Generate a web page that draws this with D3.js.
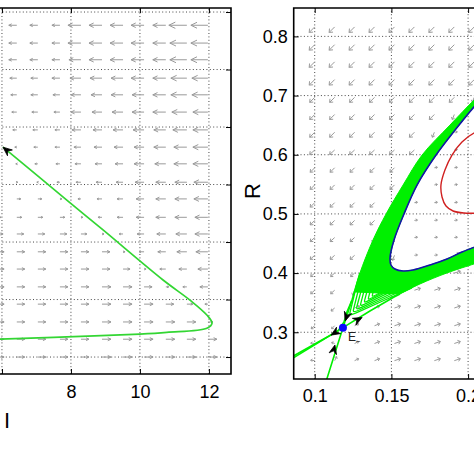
<!DOCTYPE html>
<html>
<head>
<meta charset="utf-8">
<script src="https://cdn.jsdelivr.net/npm/d3@7"></script>
<style>
  body { margin: 0; background: #fff; }
  svg { display: block; }
  text { font-family: "Liberation Sans", Arial, Helvetica, sans-serif; }
</style>
</head>
<body>
<script>
// ---------- left panel (I on x) ----------
const leftXTicks = [6, 8, 10, 12];
const leftXLabels = [8, 10, 12];
const leftYTicks = [1, 2, 3, 4, 5, 6, 7];

// quiver grid, rows listed top to bottom
const leftCols = [5.83, 6.43, 7.04, 7.68, 8.29, 8.90, 9.51, 10.12, 10.75, 11.36, 11.97];
const leftRows = [6.77, 6.46, 6.17, 5.85, 5.56, 5.26, 4.95, 4.65, 4.36, 4.04,
                  3.75, 3.43, 3.14, 2.83, 2.53, 2.22, 1.92, 1.61, 1.31, 1.00];
const leftU = [
  [-7, -8, -8, -8, -13, -13, -13, -13, -13, -18, -17],
  [-7, -8, -8, -8, -13, -13, -13, -13, -13, -17, -17],
  [-7, -8, -8, -8, -12, -13, -13, -13, -13, -17, -17],
  [-6, -7, -7, -8, -11, -12, -12, -13, -13, -16, -16],
  [-5, -6, -7, -7, -10, -11, -12, -12, -13, -16, -16],
  [-4, -5, -6, -6, -10, -10, -11, -12, -13, -15, -15],
  [-3, -4, -5, -5, -9, -9, -10, -11, -12, -14, -15],
  [-2, -2, -4, -5, -7, -8, -9, -10, -12, -13, -15],
  [-1, -1, -3, -4, -6, -7, -8, -10, -11, -13, -15],
  [1, 1, -1, -3, -5, -6, -7, -9, -10, -12, -14],
  [3, 4, 4, 2, -3, -5, -6, -8, -10, -12, -14],
  [5, 5, 5, 5, 2, -4, -6, -8, -10, -12, -13],
  [7, 7, 7, 7, 6, 2, -4, -7, -9, -11, -13],
  [8, 8, 8, 8, 8, 8, 2, -5, -8, -10, -12],
  [8, 8, 8, 8, 8, 8, 7, 2, -6, -8, -10],
  [8, 8, 8, 8, 8, 9, 9, 8, 3, -4, -8],
  [8, 8, 8, 8, 8, 9, 9, 9, 8, 6, -3],
  [8, 8, 8, 8, 8, 9, 9, 9, 9, 9, 5],
  [8, 8, 8, 8, 8, 9, 9, 9, 9, 9, 9],
  [8, 8, 8, 8, 8, 9, 9, 9, 9, 9, 9]
];

// trajectory in the left panel
const leftTrajI = [4.5, 5.94, 7.88, 10.0, 10.78, 11.94, 12.09, 11.94, 11.45, 10.67, 8.93, 7.88, 6.03];
const leftTrajY = [1.28, 1.31, 1.35, 1.40, 1.43, 1.50, 1.59, 1.73, 1.99, 2.34, 3.21, 3.73, 4.65];

// ---------- right panel (R on y) ----------
const rightXTicks = [0.1, 0.15, 0.2];
const rightYTicks = [0.3, 0.4, 0.5, 0.6, 0.7, 0.8];

const rightCols = [0.100, 0.113, 0.126, 0.139, 0.152, 0.165, 0.178, 0.191, 0.204];
const rightRows = [0.816, 0.786, 0.757, 0.727, 0.697, 0.668, 0.638, 0.608, 0.578, 0.549,
                   0.519, 0.489, 0.460, 0.430, 0.400, 0.371, 0.341, 0.311, 0.281, 0.252];
const rightU = [
  [-5.5, -5.5, -5.5, -5.5, -5.5, -5.5, -5.5, -5.5, -5.5],
  [-5.5, -5.5, -5.5, -5.5, -5.5, -5.5, -5.5, -5.5, -5.5],
  [-5.5, -5.5, -5.5, -5.5, -5.5, -5.5, -5.5, -5.5, -5.5],
  [-5.5, -5.5, -5.5, -5.5, -5.5, -5.5, -5.5, -5.5, -5.5],
  [-5, -5, -5, -5, -5, -5, -5, -5, -2],
  [-5, -5, -5, -5, -5, -5, -5, -2, 3],
  [-5, -5, -5, -5, -5, -5, -2, 3, 3],
  [-5, -5, -5, -5, -5, -5, -2, 3, 3],
  [-4.5, -4.5, -4.5, -4.5, -4.5, -2, 3, 3, 3],
  [-4.5, -4.5, -4.5, -4.5, -4.5, 3, 3, 3, 3],
  [-4.5, -4.5, -4.5, -4.5, -2, 3, 3, 3, 3],
  [-4.5, -4.5, -4.5, -4.5, -2, 3, 3, 3, 3],
  [-4.5, -4.5, -4.5, -2, -2, 3, 3, 3, 3],
  [-4.5, -4.5, -4.5, -2, -2, 3, 3, 5, 5],
  [-4, -4, -4, -2, 3, 5, 5, 6, 6],
  [-4, -4, -2, 3, 5, 6, 6, 6, 6],
  [-3.5, -3.5, 5, 5, 6, 6, 6, 6, 6],
  [-3.5, -3, 4, 5, 6, 6, 6, 6, 6],
  [-4, -3, 4, 5, 6, 6, 6, 6, 6],
  [-4, 2, 4, 5, 6, 6, 6, 6, 6]
];
const rightV = [
  [-5.5, -5.5, -5.5, -5.5, -5.5, -5.5, -5.5, -5.5, -5.5],
  [-5.5, -5.5, -5.5, -5.5, -5.5, -5.5, -5.5, -5.5, -5.5],
  [-5.5, -5.5, -5.5, -5.5, -5.5, -5.5, -5.5, -5.5, -5.5],
  [-5.5, -5.5, -5.5, -5.5, -5.5, -5.5, -5.5, -5.5, -5.5],
  [-5, -5, -5, -5, -5, -5, -5, -5, -5],
  [-5, -5, -5, -5, -5, -5, -5, -5, 0.5],
  [-5, -5, -5, -5, -5, -5, -5, 0.5, 0.5],
  [-4.5, -4.5, -4.5, -4.5, -4.5, -4.5, -5, 0.5, 0.5],
  [-4.5, -4.5, -4.5, -4.5, -4.5, -5, 0.5, 0.5, 0.5],
  [-4.5, -4.5, -4.5, -4.5, -4.5, 0.5, 0.5, 0.5, 0.5],
  [-4.5, -4.5, -4.5, -4.5, -5, 0.5, 0.5, 0.5, 0.5],
  [-4.5, -4.5, -4.5, -4.5, -5, 0.5, 0.5, 0.5, 0.5],
  [-4, -4, -4, -5, -5, 0.5, 0.5, 0.5, 0.5],
  [-4, -4, -4, -5, -5, 0.5, 0.5, 2, 2],
  [-3.5, -3.5, -3.5, -5, 2, 2, 2, 2, 2],
  [-3.5, -3.5, -5, 2, 2, 2, 2, 2, 2],
  [-3, -3, 2, 2, 2, 2, 2, 2, 2],
  [-3, -3, 2, 2, 2, 2, 2, 2, 2],
  [0.5, 1, 2, 2, 2, 2, 2, 2, 2],
  [0.5, 4, 2, 2, 2, 2, 2, 2, 2]
];

// saddle point
const saddle = [0.1184, 0.3078];

// outer edge of the green bundle (left arm, top to bottom)
const bandOuter = [[0.2078, 0.7025], [0.2038, 0.6924], [0.1882, 0.6502], [0.1700, 0.5995],
                   [0.1576, 0.5488], [0.1465, 0.4998], [0.1380, 0.4559], [0.1295, 0.4002], [0.1259, 0.3681]];
// lower edge of the lower arm (left to right)
const bandLower = [[0.1556, 0.3647], [0.1686, 0.3816], [0.1862, 0.4002], [0.2038, 0.4154], [0.2078, 0.4188]];

// fan of trajectories turning near the saddle
const fanStart = [[0.1282, 0.3883], [0.1301, 0.3883], [0.1321, 0.3883], [0.1340, 0.3883],
                  [0.1360, 0.3883], [0.1379, 0.3883], [0.1399, 0.3883], [0.1418, 0.3883]];
const fanTurn = [[0.1224, 0.3275], [0.1247, 0.3326], [0.1269, 0.3376], [0.1295, 0.3436],
                 [0.1321, 0.3495], [0.1347, 0.3546], [0.1373, 0.3596], [0.1399, 0.3664]];
const fanEnd = [[0.1634, 0.3748], [0.1634, 0.3782], [0.1634, 0.3816], [0.1634, 0.3850],
                [0.1634, 0.3884], [0.1634, 0.3917], [0.1634, 0.3951], [0.1634, 0.3985]];

// separatrices
const unstableLeft = [[0.0839, 0.2532], [0.1184, 0.3078]];
const unstableRight = [[0.1184, 0.3078], [0.1360, 0.3360], [0.1517, 0.3596], [0.1556, 0.3647]];
const stableLower = [[0.1073, 0.2160], [0.1184, 0.3078], [0.1243, 0.3546], [0.1295, 0.4002]];
const nearSaddle = [[0.0839, 0.2566], [0.1035, 0.2853], [0.1152, 0.3022], [0.1191, 0.3174], [0.1210, 0.3343], [0.1243, 0.3546]];

// limit cycles (visible part)
const blueCycle = [[0.2078, 0.6907], [0.2038, 0.6806], [0.1915, 0.6417], [0.1791, 0.5995], [0.1667, 0.5488],
                   [0.1582, 0.4998], [0.1517, 0.4559], [0.1491, 0.4255], [0.1497, 0.4137], [0.1523, 0.4069],
                   [0.1576, 0.4035], [0.1641, 0.4052], [0.1752, 0.4137], [0.1862, 0.4238], [0.1960, 0.4356],
                   [0.2078, 0.4475]];
const redCycle = [[0.2078, 0.6399], [0.2038, 0.6367], [0.1960, 0.6215], [0.1895, 0.5995], [0.1849, 0.5742],
                  [0.1823, 0.5488], [0.1830, 0.5286], [0.1856, 0.5133], [0.1902, 0.5049], [0.1973, 0.5015],
                  [0.2078, 0.5015]];

// direction arrows: [from, tip]
const rightArrows = [
  [[0.1184, 0.3078], [0.1106, 0.2951]],
  [[0.1243, 0.3546], [0.1199, 0.3191]],
  [[0.1184, 0.3078], [0.1309, 0.3250]],
  [[0.1073, 0.2160], [0.1132, 0.2785]]
];
const leftArrow = [[7.88, 3.73], [6.03, 4.65]];

// ---------- drawing ----------
const W = 474, H = 474;
const svg = d3.select("body").append("svg").attr("width", W).attr("height", H);
svg.append("rect").attr("width", W).attr("height", H).attr("fill", "#fff");

const xL = d3.scaleLinear().domain([0, 12.64]).range([-205, 231]);
const yL = d3.scaleLinear().domain([0.705, 7.07]).range([374, 8]);
const xR = d3.scaleLinear().domain([0.0863, 0.25]).range([293.7, 544.8]);
const yR = d3.scaleLinear().domain([0.221, 0.848]).range([379, 8]);

const defs = svg.append("defs");
defs.append("clipPath").attr("id", "clipL").append("rect")
    .attr("x", xL.range()[0]).attr("y", 8).attr("width", xL.range()[1] - xL.range()[0]).attr("height", 366);
defs.append("clipPath").attr("id", "clipR").append("rect")
    .attr("x", xR.range()[0]).attr("y", 8).attr("width", xR.range()[1] - xR.range()[0]).attr("height", 371);

function grid(g, xs, ys, x, y) {
  const yr = y.range(), xr = x.range();
  g.selectAll(".gv").data(xs).enter().append("line")
      .attr("x1", d => x(d)).attr("x2", d => x(d)).attr("y1", yr[0]).attr("y2", yr[1]);
  g.selectAll(".gh").data(ys).enter().append("line")
      .attr("x1", xr[0]).attr("x2", xr[1]).attr("y1", d => y(d)).attr("y2", d => y(d));
  g.selectAll("line").attr("stroke", "#333").attr("stroke-width", 0.9).attr("stroke-dasharray", "1,2.4");
}

function quiver(g, cols, rows, U, V, x, y, headRatio, headAngle) {
  let p = "";
  rows.forEach((ry, i) => {
    cols.forEach((cx, j) => {
      const dx = U[i][j], dy = V ? -V[i][j] : 0;
      const L = Math.hypot(dx, dy);
      if (L < 0.5) return;
      const x0 = x(cx), y0 = y(ry), tx = x0 + dx, ty = y0 + dy;
      const ux = dx / L, uy = dy / L, h = Math.max(2, headRatio * L), a = headAngle;
      const b1x = tx - h * (ux * Math.cos(a) - uy * Math.sin(a)), b1y = ty - h * (ux * Math.sin(a) + uy * Math.cos(a));
      const b2x = tx - h * (ux * Math.cos(-a) - uy * Math.sin(-a)), b2y = ty - h * (ux * Math.sin(-a) + uy * Math.cos(-a));
      p += `M${x0},${y0}L${tx},${ty}M${b1x},${b1y}L${tx},${ty}L${b2x},${b2y}`;
    });
  });
  g.append("path").attr("d", p).attr("fill", "none").attr("stroke", "#9a9a9a").attr("stroke-width", 1);
}

function arrowHead(g, from, tip, x, y) {
  const x0 = x(from[0]), y0 = y(from[1]), tx = x(tip[0]), ty = y(tip[1]);
  const L = Math.hypot(tx - x0, ty - y0), ux = (tx - x0) / L, uy = (ty - y0) / L;
  const len = 9, wid = 3.8, notch = 6;
  const bx = tx - ux * len, by = ty - uy * len;
  const nx = tx - ux * notch, ny = ty - uy * notch;
  g.append("path")
      .attr("d", `M${tx},${ty}L${bx - uy * wid},${by + ux * wid}L${nx},${ny}L${bx + uy * wid},${by - ux * wid}Z`)
      .attr("fill", "#000").attr("stroke", "#000").attr("stroke-width", 0.8).attr("stroke-linejoin", "round");
}

// ----- left panel -----
const gL = svg.append("g");
grid(gL, leftXTicks, leftYTicks, xL, yL);
const dL = gL.append("g").attr("clip-path", "url(#clipL)");
quiver(dL, leftCols, leftRows, leftU, null, xL, yL, 0.4, 0.45);
dL.append("path")
    .datum(leftTrajI.map((v, i) => [v, leftTrajY[i]]))
    .attr("d", d3.line().x(d => xL(d[0])).y(d => yL(d[1])).curve(d3.curveCatmullRom))
    .attr("fill", "none").attr("stroke", "#33d633").attr("stroke-width", 1.7);
arrowHead(dL, leftArrow[0], leftArrow[1], xL, yL);

// ----- right panel -----
const gR = svg.append("g");
grid(gR, rightXTicks, rightYTicks, xR, yR);
const dR = gR.append("g").attr("clip-path", "url(#clipR)");
quiver(dR, rightCols, rightRows, rightU, rightV, xR, yR, 0.5, 0.7);

const smooth = d3.line().x(d => xR(d[0])).y(d => yR(d[1])).curve(d3.curveCatmullRom);
const straight = d3.line().x(d => xR(d[0])).y(d => yR(d[1]));
const green = "#00f000";

// solid part of the bundle: outer edge, lower edge, then back along the blue cycle
const bandPath = smooth(bandOuter) + smooth(bandLower).replace(/^M/, "L") +
    smooth(blueCycle.slice().reverse()).replace(/^M/, "L") + "Z";
dR.append("path").attr("d", bandPath)
    .attr("fill", green).attr("stroke", green).attr("stroke-width", 1);

// fan near the saddle
const basis = d3.line().x(d => xR(d[0])).y(d => yR(d[1])).curve(d3.curveBasis);
fanStart.forEach((s, i) => {
  dR.append("path").attr("d", basis([s, fanTurn[i], fanTurn[i], fanEnd[i]]))
      .attr("fill", "none").attr("stroke", green).attr("stroke-width", 1.3);
});

[unstableLeft, unstableRight, stableLower, nearSaddle].forEach(seg => {
  dR.append("path").attr("d", straight(seg))
      .attr("fill", "none").attr("stroke", green).attr("stroke-width", 1.6);
});

dR.append("path").attr("d", smooth(blueCycle))
    .attr("fill", "none").attr("stroke", "#1414a8").attr("stroke-width", 1.6);
dR.append("path").attr("d", smooth(redCycle))
    .attr("fill", "none").attr("stroke", "#d02020").attr("stroke-width", 1.4);

rightArrows.forEach(a => arrowHead(dR, a[0], a[1], xR, yR));

dR.append("circle").attr("cx", xR(saddle[0])).attr("cy", yR(saddle[1])).attr("r", 4)
    .attr("fill", "#0a0aff");
const eLab = gR.append("text").attr("x", xR(saddle[0]) + 5).attr("y", yR(saddle[1]) + 13)
    .attr("font-size", 12).attr("fill", "#222").text("E");
eLab.append("tspan").attr("font-size", 8).attr("dy", 3).text("\u2212");

// ----- axes -----
function styleAxis(g) {
  g.select(".domain").remove();
  g.selectAll(".tick line").attr("stroke", "#000").attr("stroke-width", 1);
  g.selectAll("text").attr("font-size", 18).attr("fill", "#000")
      .attr("font-family", '"Liberation Sans", Arial, sans-serif');
}

// left panel frame and ticks
svg.append("g").attr("transform", "translate(0,374)")
    .call(d3.axisBottom(xL).tickValues(leftXTicks).tickSize(-5).tickPadding(11)
      .tickFormat(d => leftXLabels.includes(d) ? d : ""))
    .call(styleAxis);
svg.append("g").attr("transform", "translate(0,8)")
    .call(d3.axisTop(xL).tickValues(leftXTicks).tickSize(-5).tickFormat(""))
    .call(styleAxis);
svg.append("g").attr("transform", "translate(231,0)")
    .call(d3.axisRight(yL).tickValues(leftYTicks).tickSize(-5).tickFormat(""))
    .call(styleAxis);
svg.append("path")
    .attr("d", `M${xL.range()[0]},8H231V374H${xL.range()[0]}`)
    .attr("fill", "none").attr("stroke", "#000").attr("stroke-width", 1.6);

// right panel frame and ticks
svg.append("g").attr("transform", "translate(0,379)")
    .call(d3.axisBottom(xR).tickValues(rightXTicks).tickSize(-5).tickPadding(10)
      .tickFormat(d => String(d)))
    .call(styleAxis);
svg.append("g").attr("transform", "translate(0,8)")
    .call(d3.axisTop(xR).tickValues(rightXTicks).tickSize(-5).tickFormat(""))
    .call(styleAxis);
svg.append("g").attr("transform", "translate(293.7,0)")
    .call(d3.axisLeft(yR).tickValues(rightYTicks).tickSize(-5).tickPadding(6)
      .tickFormat(d3.format(".1f")))
    .call(styleAxis);
svg.append("path")
    .attr("d", `M${xR.range()[1]},8H293.7V379H${xR.range()[1]}`)
    .attr("fill", "none").attr("stroke", "#000").attr("stroke-width", 1.6);

// axis titles
svg.append("text").attr("x", 7).attr("y", 428).attr("text-anchor", "middle")
    .attr("font-size", 22).text("I");
svg.append("text").attr("transform", "translate(260,191) rotate(-90)").attr("text-anchor", "middle")
    .attr("font-size", 22).text("R");
</script>
</body>
</html>
